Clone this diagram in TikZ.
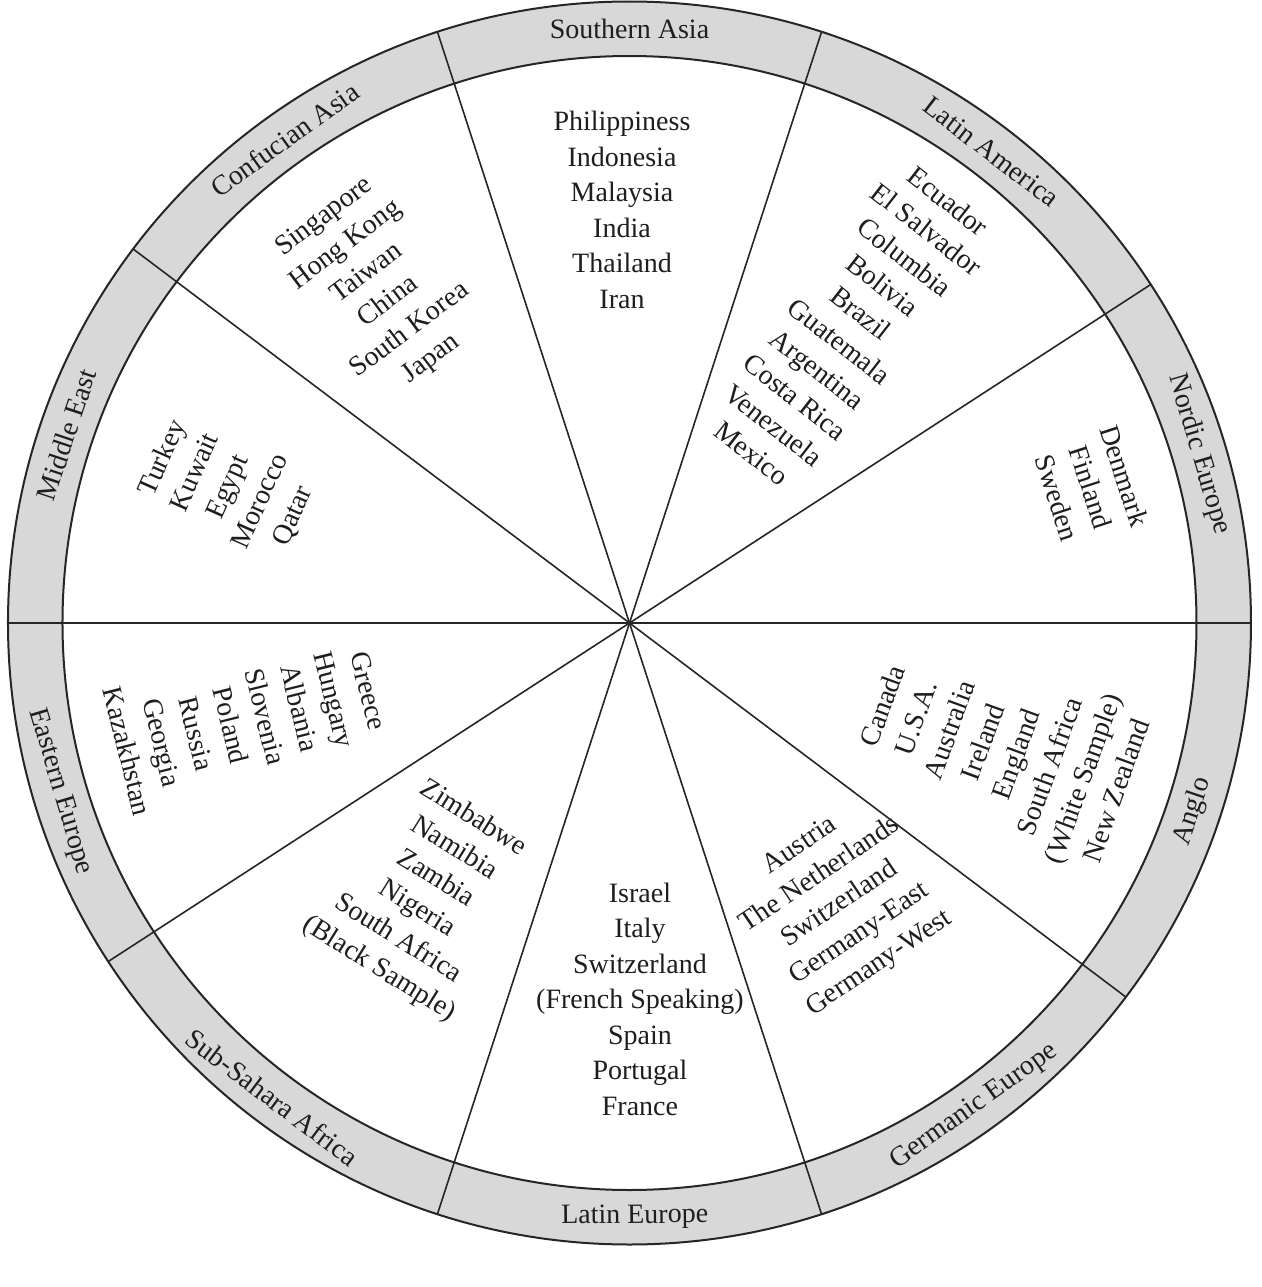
\documentclass[tikz,border=0pt]{standalone}
\usepackage{fontspec}
\setmainfont{Liberation Serif}
\definecolor{ringgray}{RGB}{216,216,216}
\definecolor{inkc}{RGB}{30,30,30}
\begin{document}
\begin{tikzpicture}[x=0.5pt,y=0.5pt,
  font=\fontsize{14}{17.75}\selectfont,
  ringlabel/.style={inner sep=0pt, text=inkc},
  clist/.style={align=center, inner sep=0pt, text=inkc},
  rim/.style={line width=1pt, draw=black!85}]
\useasboundingbox (-629.5,-664) rectangle (632.5,623);
\fill[white] (-629.5,-664) rectangle (632.5,623);
\fill[ringgray, even odd rule] (0,0) circle (621.5) (0,0) circle (567);
\draw[rim] (0,0) circle (621.5);
\draw[rim] (0,0) circle (567);
\foreach \a in {0,33,72,108,143}{
  \draw[line width=0.8pt, draw=black!85] (\a:621.5) -- (\a+180:621.5);
}
% ring labels
\node[ringlabel, rotate=-73.5] (nordic) at (16.5:594) {Nordic Europe};
\node[ringlabel, rotate=-37.5] (latam) at (52.5:594) {Latin America};
\node[ringlabel] (sasia) at (90:594) {Southern Asia};
\node[ringlabel, rotate=35.5] (confu) at (125.5:594) {Confucian Asia};
\node[ringlabel, rotate=71.5] (mideast) at (161.5:594) {Middle East};
\node[ringlabel, rotate=-73.5] (eeur) at (196.5:594) {Eastern Europe};
\node[ringlabel, rotate=-37] (ssa) at (233:594) {Sub-Sahara Africa};
\node[ringlabel, rotate=0.5] (leur) at (270.5:594) {Latin Europe};
\node[ringlabel, rotate=35.5] (geur) at (305.5:594) {Germanic Europe};
\node[ringlabel, rotate=71.5] (anglo) at (341.5:594) {Anglo};
% country lists
\node[clist] (lsasia) at (-7.5,413) {Philippiness\\Indonesia\\Malaysia\\India\\Thailand\\Iran};
\node[clist, rotate=-38] (llatam) at (220.5,296) {Ecuador\\El Salvador\\Columbia\\Bolivia\\Brazil\\Guatemala\\Argentina\\Costa Rica\\Venezuela\\Mexico};
\node[clist, rotate=-72] (lnordic) at (461.5,136) {Denmark\\Finland\\Sweden};
\node[clist, rotate=70] (langlo) at (369.5,-125) {Canada\\U.S.A.\\Australia\\Ireland\\England\\South Africa\\(White Sample)\\New Zealand};
\node[clist, rotate=34] (lgeur) at (210.5,-282) {Austria\\The Netherlands\\Switzerland\\Germany-East\\Germany-West};
\node[clist] (lleur) at (10.5,-376) {Israel\\Italy\\Switzerland\\(French Speaking)\\Spain\\Portugal\\France};
\node[clist, rotate=-32] (lssa) at (-203.5,-271) {Zimbabwe\\Namibia\\Zambia\\Nigeria\\South Africa\\(Black Sample)};
\node[clist, rotate=-76] (leeur) at (-381.5,-98) {Greece\\Hungary\\Albania\\Slovenia\\Poland\\Russia\\Georgia\\Kazakhstan};
\node[clist, rotate=66] (lmideast) at (-401.5,136) {Turkey\\Kuwait\\Egypt\\Morocco\\Qatar};
\node[clist, rotate=37] (lconfu) at (-251.5,335) {Singapore\\Hong Kong\\Taiwan\\China\\South Korea\\Japan};
\end{tikzpicture}
\end{document}
